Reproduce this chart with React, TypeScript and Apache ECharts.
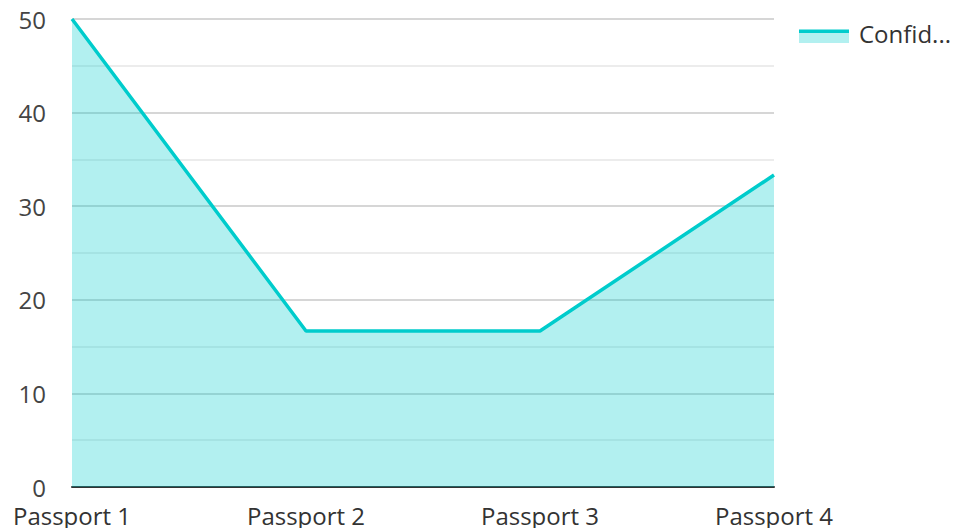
import React, { useEffect, useRef } from "react";
import * as echarts from "echarts";

const categories = ["Passport 1", "Passport 2", "Passport 3", "Passport 4"];
const seriesName = "Confidence";
const values = [50, 16.67, 16.67, 33.33];
const legendLabel = "Confid...";

export default function App() {
  const ref = useRef<HTMLDivElement>(null);
  useEffect(() => {
    const chart = echarts.init(ref.current!, null, { renderer: "svg" });
    chart.setOption({
      animation: false,
      textStyle: { fontFamily: "Open Sans" },
      grid: { left: 72, right: 182, top: 19, bottom: 41, containLabel: false },
      xAxis: {
        type: "category",
        data: categories,
        boundaryGap: false,
        axisLine: { lineStyle: { color: "#333", width: 2 } },
        axisTick: { show: false },
        axisLabel: { color: "#333", fontSize: 24, fontFamily: "Open Sans", margin: 16 },
        splitLine: { show: false },
      },
      yAxis: {
        type: "value",
        min: 0,
        max: 50,
        interval: 10,
        axisLine: { show: false },
        axisTick: { show: false },
        axisLabel: { color: "#444", fontSize: 24, fontFamily: "Open Sans", margin: 26 },
        splitLine: { lineStyle: { color: "#c8c8c8", width: 1.5 } },
        minorTick: { show: false, splitNumber: 2 },
        minorSplitLine: { show: true, lineStyle: { color: "#e6e6e6", width: 1.5 } },
      },
      series: [
        {
          name: seriesName,
          type: "line",
          data: values,
          symbol: "none",
          lineStyle: { color: "#00cccc", width: 3.5 },
          itemStyle: { color: "#00cccc" },
          areaStyle: { color: "#00cccc", opacity: 0.3 },
        },
      ],
      graphic: [
        { type: "rect", shape: { x: 799, y: 33, width: 50, height: 10 }, style: { fill: "#00cccc", opacity: 0.3 } },
        { type: "rect", shape: { x: 799, y: 29.5, width: 50, height: 3.5 }, style: { fill: "#00cccc" } },
        {
          type: "text",
          x: 859,
          y: 33,
          style: { text: legendLabel, fontSize: 24, fontFamily: "Open Sans", fill: "#333", textVerticalAlign: "middle" },
        },
      ],
    });
    return () => chart.dispose();
  }, []);
  return <div ref={ref} style={{ width: 956, height: 528, position: "absolute", left: 0, top: 0 }} />;
}
